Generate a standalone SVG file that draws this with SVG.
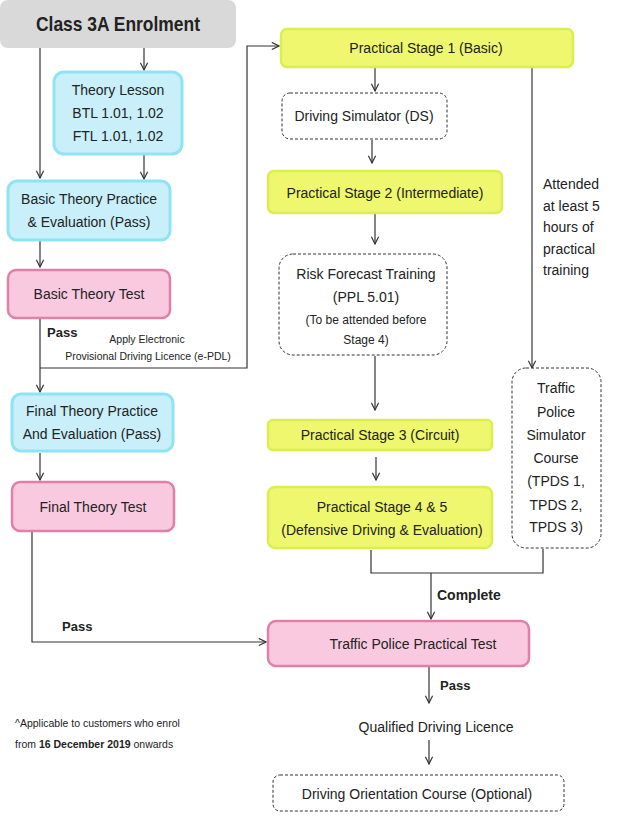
<svg xmlns="http://www.w3.org/2000/svg" width="621" height="817" viewBox="0 0 621 817">
<defs>
<marker id="arr" viewBox="0 0 10 10" refX="9" refY="5" markerWidth="9" markerHeight="9" markerUnits="userSpaceOnUse" orient="auto">
<path d="M1,1 L9,5 L1,9" fill="none" stroke="#333" stroke-width="1.3"/>
</marker>
<style>
text{font-family:"Liberation Sans",Arial,sans-serif;font-size:14px;fill:#222;text-anchor:middle}
.b{font-weight:bold}
.cyan{fill:#c9f0fa;stroke:#8fe3f3;stroke-width:3}
.pink{fill:#f9cadf;stroke:#e27fa8;stroke-width:2.5}
.yel{fill:#eef76e;stroke:#d9ef4f;stroke-width:2.5}
.dash{fill:#fff;stroke:#333;stroke-width:1;stroke-dasharray:3,2}
.ln{fill:none;stroke:#333;stroke-width:1.2}
.sm{font-size:10.5px}
.l{text-anchor:start}
.fn{font-size:10.5px}
</style>
</defs>
<rect width="621" height="817" fill="#fff"/>

<g id="connectors">
<path class="ln" d="M40,48 V178" marker-end="url(#arr)"/>
<path class="ln" d="M144,48 V70" marker-end="url(#arr)"/>
<path class="ln" d="M144,155 V179" marker-end="url(#arr)"/>
<path class="ln" d="M40,241 V267" marker-end="url(#arr)"/>
<path class="ln" d="M40,319 V392" marker-end="url(#arr)"/>
<path class="ln" d="M40,368 H247 V46 H279" marker-end="url(#arr)"/>
<path class="ln" d="M40,453 V480" marker-end="url(#arr)"/>
<path class="ln" d="M32,532 V642 H266" marker-end="url(#arr)"/>
<path class="ln" d="M375,68 V91" marker-end="url(#arr)"/>
<path class="ln" d="M372,140 V163" marker-end="url(#arr)"/>
<path class="ln" d="M375,214 V244" marker-end="url(#arr)"/>
<path class="ln" d="M375,356 V410" marker-end="url(#arr)"/>
<path class="ln" d="M376,457 V480" marker-end="url(#arr)"/>
<path class="ln" d="M532,68 V368" marker-end="url(#arr)"/>
<path class="ln" d="M371,550 V573 H543 V549"/>
<path class="ln" d="M431,573 V619" marker-end="url(#arr)"/>
<path class="ln" d="M429,667 V703" marker-end="url(#arr)"/>
<path class="ln" d="M429,740 V764" marker-end="url(#arr)"/>
<text class="b l" x="47" y="337" style="font-size:13px">Pass</text>
<text class="sm" x="147" y="343">Apply Electronic</text>
<text class="sm" x="148" y="360">Provisional Driving Licence (e-PDL)</text>
<text class="b l" x="62" y="631" style="font-size:13px">Pass</text>
<text class="b l" x="437" y="600" style="font-size:14px">Complete</text>
<text class="b l" x="440" y="690" style="font-size:13px">Pass</text>
<text class="l" x="543" y="189">Attended</text>
<text class="l" x="543" y="211">at least 5</text>
<text class="l" x="543" y="232">hours of</text>
<text class="l" x="543" y="254">practical</text>
<text class="l" x="543" y="275">training</text>
</g>

<g id="enrolment">
<rect x="0" y="0" width="236" height="48" rx="8" fill="#d9d9d9"/>
<text class="b" x="118" y="31" style="font-size:21px" textLength="164" lengthAdjust="spacingAndGlyphs">Class 3A Enrolment</text>
</g>
<g id="theory-lesson">
<rect class="cyan" x="54" y="72" width="128" height="82" rx="10"/>
<text x="118" y="95">Theory Lesson</text>
<text x="118" y="118">BTL 1.01, 1.02</text>
<text x="118" y="141">FTL 1.01, 1.02</text>
</g>
<g id="basic-practice">
<rect class="cyan" x="8" y="181" width="162" height="59" rx="9"/>
<text x="89" y="204">Basic Theory Practice</text>
<text x="89" y="227">&amp; Evaluation (Pass)</text>
</g>
<g id="basic-test">
<rect class="pink" x="8" y="270" width="162" height="48" rx="8"/>
<text x="89" y="299">Basic Theory Test</text>
</g>
<g id="final-practice">
<rect class="cyan" x="12" y="394" width="161" height="57" rx="9"/>
<text x="92" y="416">Final Theory Practice</text>
<text x="92" y="439">And Evaluation (Pass)</text>
</g>
<g id="final-test">
<rect class="pink" x="12" y="482" width="162" height="49" rx="8"/>
<text x="93" y="512">Final Theory Test</text>
</g>
<g id="stage1">
<rect class="yel" x="281" y="29" width="292" height="38" rx="6"/>
<text x="426" y="53">Practical Stage 1 (Basic)</text>
</g>
<g id="simulator">
<rect class="dash" x="282" y="93" width="165" height="46" rx="8"/>
<text x="364" y="121">Driving Simulator (DS)</text>
</g>
<g id="stage2">
<rect class="yel" x="268" y="171" width="234" height="42" rx="6"/>
<text x="385" y="198">Practical Stage 2 (Intermediate)</text>
</g>
<g id="risk">
<rect class="dash" x="279" y="254" width="168" height="101" rx="14"/>
<text x="366" y="279">Risk Forecast Training</text>
<text x="366" y="302">(PPL 5.01)</text>
<text x="366" y="324" style="font-size:12px">(To be attended before</text>
<text x="366" y="344" style="font-size:12px">Stage 4)</text>
</g>
<g id="stage3">
<rect class="yel" x="268" y="420" width="224" height="30" rx="5"/>
<text x="380" y="440">Practical Stage 3 (Circuit)</text>
</g>
<g id="stage45">
<rect class="yel" x="268" y="487" width="224" height="61" rx="7"/>
<text x="382" y="512">Practical Stage  4 &amp; 5</text>
<text x="382" y="535">(Defensive Driving &amp; Evaluation)</text>
</g>
<g id="tpsc">
<rect class="dash" x="512" y="368" width="89" height="180" rx="14"/>
<text x="556" y="393">Traffic</text>
<text x="556" y="417">Police</text>
<text x="556" y="440">Simulator</text>
<text x="556" y="463">Course</text>
<text x="556" y="486">(TPDS 1,</text>
<text x="556" y="510">TPDS 2,</text>
<text x="556" y="532">TPDS 3)</text>
</g>
<g id="tp-test">
<rect class="pink" x="268" y="621" width="261" height="45" rx="8"/>
<text x="413" y="649">Traffic Police Practical Test</text>
</g>
<g id="qualified">
<text x="436" y="732">Qualified Driving Licence</text>
</g>
<g id="orientation">
<rect class="dash" x="273" y="775" width="291" height="36" rx="7"/>
<text x="417" y="799">Driving Orientation Course (Optional)</text>
</g>
<g id="footnote">
<text class="l fn" x="15" y="727">^Applicable to customers who enrol</text>
<text class="l fn" x="15" y="748">from <tspan class="b">16 December 2019</tspan> onwards</text>
</g>
</svg>
